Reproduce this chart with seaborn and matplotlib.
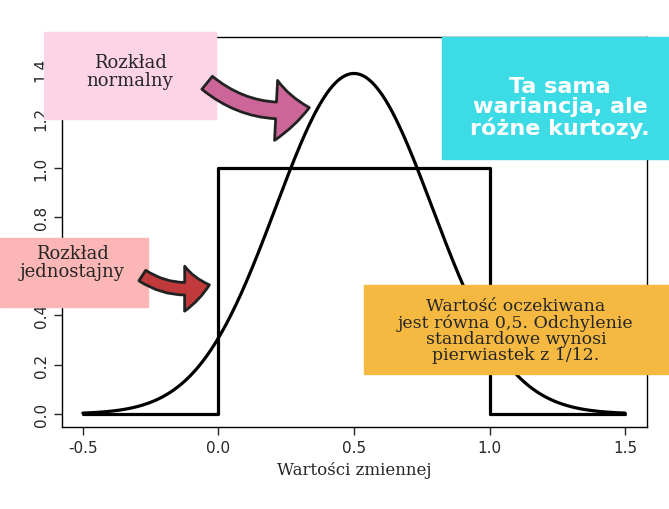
import numpy as np
import pandas as pd
import matplotlib
matplotlib.use("Agg")
import matplotlib.pyplot as plt
import seaborn as sns
from matplotlib.patches import FancyArrowPatch, Rectangle

# Distribution parameters (mean 0.5, variance 1/12)
mean = 0.5
variance = 1 / 12
x_min, x_max = -0.5, 1.5
unif_low, unif_high = 0.0, 1.0

x = np.linspace(x_min, x_max, 801)
sd = np.sqrt(variance)
normal_y = np.exp(-(x - mean) ** 2 / (2 * variance)) / (sd * np.sqrt(2 * np.pi))

unif_x = [x_min, unif_low, unif_low, unif_high, unif_high, x_max]
unif_y = [0, 0, 1, 1, 0, 0]

xticks = [-0.5, 0.0, 0.5, 1.0, 1.5]
yticks = [0.0, 0.2, 0.4, 0.6, 0.8, 1.0, 1.2, 1.4]

sns.set_style("white")
W, H = 669, 510
fig = plt.figure(figsize=(W / 100, H / 100), dpi=100)
ax = fig.add_axes([62 / W, 1 - 428 / H, (647 - 62) / W, (428 - 38) / H])

sns.lineplot(x=x, y=normal_y, ax=ax, color="black", lw=2.3, estimator=None)
sns.lineplot(x=unif_x, y=unif_y, ax=ax, color="black", lw=2.3, sort=False, estimator=None)

ax.set_xlim(-0.577, 1.581)
ax.set_ylim(-0.053, 1.53)
ax.set_xticks(xticks)
ax.set_xticklabels(["-0.5", "0.0", "0.5", "1.0", "1.5"], fontsize=11)
ax.set_yticks(yticks)
ax.set_yticklabels([f"{v:.1f}" for v in yticks], fontsize=11, rotation=90, va="center")
ax.tick_params(direction="out", length=6, width=1, left=True, bottom=True)
for s in ax.spines.values():
    s.set_color("black")
    s.set_linewidth(1)
ax.set_xlabel("Wartości zmiennej", fontsize=12, family="DejaVu Serif")

def box(x0, y0, x1, y1, color):
    fig.patches.append(Rectangle((x0 / W, 1 - y1 / H), (x1 - x0) / W, (y1 - y0) / H,
                                 transform=fig.transFigure, color=color, zorder=5))

def ftext(px, py, s, **kw):
    fig.text(px / W, 1 - py / H, s, ha="center", va="center", zorder=6, **kw)

box(44, 33, 216, 120, "#fdd3e6")
ftext(130, 72, "Rozkład\nnormalny", fontsize=13, family="DejaVu Serif", linespacing=0.95)
box(442, 38, 669, 160, "#3ddbe6")
ftext(560, 108, "Ta sama\nwariancja, ale\nróżne kurtozy.", fontsize=16, weight="heavy",
      color="white", linespacing=1.0)
box(0, 239, 148, 308, "#fcb6b6")
ftext(72, 263, "Rozkład\njednostajny", fontsize=13, family="DejaVu Serif", linespacing=0.95)
box(364, 286, 669, 375, "#f5b942")
ftext(516, 331, "Wartość oczekiwana\njest równa 0,5. Odchylenie\nstandardowe wynosi\npierwiastek z 1/12.",
      fontsize=12.5, family="DejaVu Serif", linespacing=0.95)

for (p0, p1, col, w) in [((205, 82), (312, 108), "#cc6699", 24), ((140, 275), (212, 285), "#c0393b", 18)]:
    a = FancyArrowPatch((p0[0] / W, 1 - p0[1] / H), (p1[0] / W, 1 - p1[1] / H),
                        transform=fig.transFigure, connectionstyle="arc3,rad=0.25",
                        arrowstyle=f"simple,head_width={w * 1.8 / 10},head_length={w / 10},tail_width={w / 20}",
                        mutation_scale=10, facecolor=col, edgecolor="#222222", lw=2, zorder=7)
    fig.patches.append(a)

fig.savefig("out.png", dpi=100)
